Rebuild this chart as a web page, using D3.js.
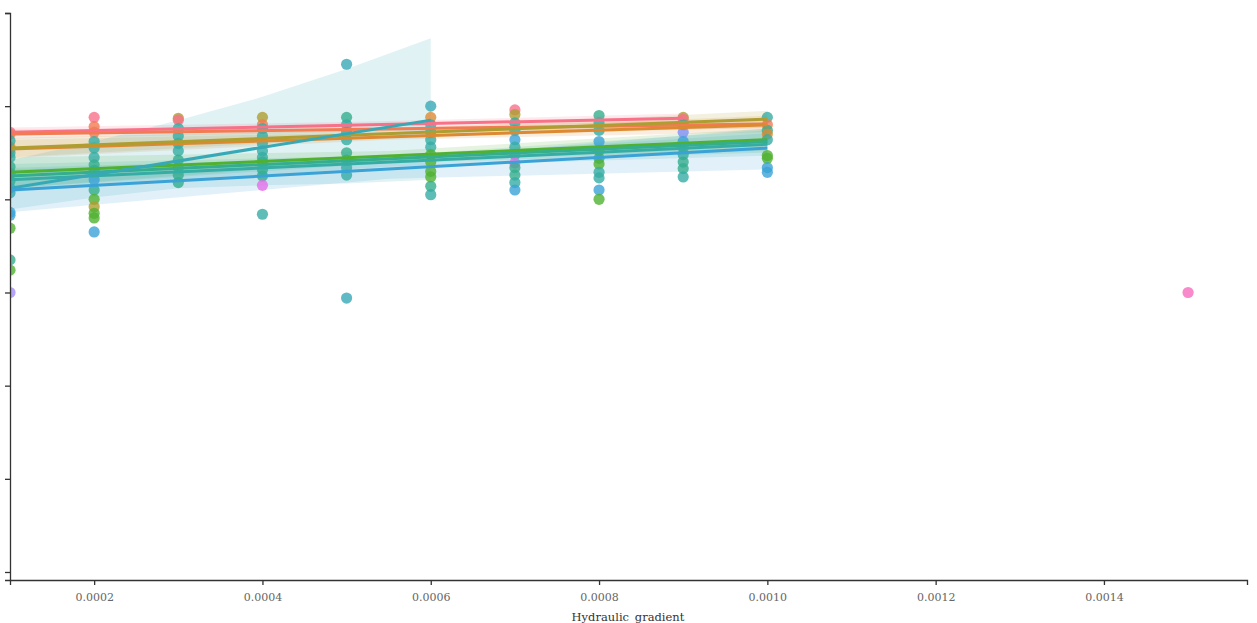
<!DOCTYPE html>
<html>
<head>
<meta charset="utf-8">
<script src="https://cdn.jsdelivr.net/npm/d3@7"></script>
<style>
  body { margin: 0; background: #fff; }
  svg text { font-family: "DejaVu Serif", "Liberation Serif", serif; fill: #444; }
</style>
</head>
<body>
<div id="chart"></div>
<script>
// hue groups and their palette
var seriesNames = ['s1', 's2', 's3', 's4', 's5', 's6', 's7', 's8', 's9', 's10', 's11', 's12', 's13'];
var seriesColors = ['#f77189', '#f27b52', '#dc8932', '#ae9d31', '#50b131', '#34ae8d', '#36ada4',
                    '#37a9b6', '#3aa2d6', '#a48cf4', '#7e8ff4', '#e46ee8', '#f66bbd'];

var xTicks = [0.0002, 0.0004, 0.0006, 0.0008, 0.0010, 0.0012, 0.0014];
var yTicks = [0, 1, 2, 3, 4, 5, 6];

// [series, hydraulic gradient, value]
var observations = [
  ['s1', 0.0001, 4.72], ['s2', 0.0001, 4.70], ['s3', 0.0001, 4.56], ['s4', 0.0001, 4.54],
  ['s7', 0.0001, 4.63], ['s7', 0.0001, 4.50], ['s7', 0.0001, 4.45], ['s6', 0.0001, 4.35],
  ['s6', 0.0001, 4.28], ['s6', 0.0001, 4.20], ['s8', 0.0001, 4.12], ['s8', 0.0001, 4.07],
  ['s9', 0.0001, 3.86], ['s9', 0.0001, 3.83], ['s5', 0.0001, 3.69], ['s6', 0.0001, 3.35],
  ['s5', 0.0001, 3.24], ['s10', 0.0001, 3.0],

  ['s1', 0.0002, 4.88], ['s2', 0.0002, 4.78], ['s2', 0.0002, 4.72], ['s7', 0.0002, 4.62],
  ['s7', 0.0002, 4.55], ['s7', 0.0002, 4.45], ['s6', 0.0002, 4.37], ['s6', 0.0002, 4.31],
  ['s9', 0.0002, 4.21], ['s6', 0.0002, 4.10], ['s5', 0.0002, 4.00], ['s4', 0.0002, 3.92],
  ['s5', 0.0002, 3.85], ['s5', 0.0002, 3.80], ['s9', 0.0002, 3.65],

  ['s4', 0.0003, 4.87], ['s1', 0.0003, 4.85], ['s7', 0.0003, 4.76], ['s7', 0.0003, 4.68],
  ['s7', 0.0003, 4.60], ['s7', 0.0003, 4.52], ['s6', 0.0003, 4.42], ['s6', 0.0003, 4.34],
  ['s6', 0.0003, 4.26], ['s6', 0.0003, 4.18],

  ['s4', 0.0004, 4.88], ['s2', 0.0004, 4.80], ['s7', 0.0004, 4.76], ['s7', 0.0004, 4.68],
  ['s7', 0.0004, 4.60], ['s7', 0.0004, 4.52], ['s7', 0.0004, 4.45], ['s6', 0.0004, 4.40],
  ['s6', 0.0004, 4.32], ['s6', 0.0004, 4.25], ['s12', 0.0004, 4.15], ['s7', 0.0004, 3.84],

  ['s8', 0.0005, 5.45], ['s6', 0.0005, 4.88], ['s7', 0.0005, 4.80], ['s7', 0.0005, 4.72],
  ['s7', 0.0005, 4.64], ['s6', 0.0005, 4.50], ['s6', 0.0005, 4.42], ['s7', 0.0005, 4.34],
  ['s7', 0.0005, 4.26], ['s8', 0.0005, 2.94],

  ['s8', 0.0006, 5.00], ['s3', 0.0006, 4.88], ['s8', 0.0006, 4.80], ['s7', 0.0006, 4.72],
  ['s7', 0.0006, 4.64], ['s7', 0.0006, 4.56], ['s5', 0.0006, 4.48], ['s5', 0.0006, 4.40],
  ['s5', 0.0006, 4.30], ['s5', 0.0006, 4.24], ['s6', 0.0006, 4.14], ['s7', 0.0006, 4.05],

  ['s1', 0.0007, 4.96], ['s4', 0.0007, 4.91], ['s7', 0.0007, 4.82], ['s7', 0.0007, 4.74],
  ['s9', 0.0007, 4.64], ['s7', 0.0007, 4.56], ['s7', 0.0007, 4.48], ['s12', 0.0007, 4.39],
  ['s6', 0.0007, 4.34], ['s6', 0.0007, 4.26], ['s7', 0.0007, 4.18], ['s9', 0.0007, 4.10],

  ['s6', 0.0008, 4.90], ['s7', 0.0008, 4.82], ['s7', 0.0008, 4.74], ['s9', 0.0008, 4.62],
  ['s5', 0.0008, 4.52], ['s6', 0.0008, 4.44], ['s5', 0.0008, 4.38], ['s7', 0.0008, 4.29],
  ['s7', 0.0008, 4.23], ['s9', 0.0008, 4.10], ['s5', 0.0008, 4.00],

  ['s4', 0.0009, 4.88], ['s1', 0.0009, 4.86], ['s7', 0.0009, 4.80], ['s11', 0.0009, 4.72],
  ['s9', 0.0009, 4.62], ['s7', 0.0009, 4.55], ['s7', 0.0009, 4.48], ['s6', 0.0009, 4.40],
  ['s6', 0.0009, 4.33], ['s7', 0.0009, 4.24],

  ['s7', 0.0010, 4.88], ['s2', 0.0010, 4.80], ['s6', 0.0010, 4.74], ['s3', 0.0010, 4.70],
  ['s7', 0.0010, 4.64], ['s5', 0.0010, 4.47], ['s5', 0.0010, 4.44], ['s9', 0.0010, 4.34],
  ['s9', 0.0010, 4.29],

  ['s13', 0.0015, 3.0]
];

// regression fits: line ends and confidence band edges
var fits = [
  {s: 's1', x: [0.0001, 0.0005, 0.0009], y: [4.72, 4.87], lo: [4.68, 4.78, 4.82], hi: [4.77, 4.83, 4.92]},
  {s: 's2', x: [0.0001, 0.00055, 0.0010], y: [4.70, 4.81], lo: [4.65, 4.73, 4.76], hi: [4.75, 4.78, 4.86]},
  {s: 's3', x: [0.0001, 0.00055, 0.0010], y: [4.54, 4.80], lo: [4.44, 4.64, 4.72], hi: [4.64, 4.72, 4.90]},
  {s: 's4', x: [0.0001, 0.00055, 0.0010], y: [4.55, 4.86], lo: [4.45, 4.67, 4.77], hi: [4.66, 4.75, 4.95]},
  {s: 's5', x: [0.0001, 0.00055, 0.0010], y: [4.29, 4.64], lo: [4.12, 4.42, 4.52], hi: [4.45, 4.52, 4.76]},
  {s: 's6', x: [0.0001, 0.00055, 0.0010], y: [4.25, 4.62], lo: [4.12, 4.39, 4.50], hi: [4.38, 4.47, 4.74]},
  {s: 's7', x: [0.0001, 0.00055, 0.0010], y: [4.21, 4.59], lo: [4.08, 4.35, 4.47], hi: [4.34, 4.45, 4.71]},
  {s: 's8', x: [0.0001, 0.0002, 0.0003, 0.0004, 0.0005, 0.0006], y: [4.12, 4.85],
   lo: [3.89, 4.02, 4.12, 4.15, 4.17, 4.21], hi: [4.42, 4.62, 4.85, 5.10, 5.40, 5.73]},
  {s: 's9', x: [0.0001, 0.00055, 0.0010], y: [4.10, 4.55], lo: [3.86, 4.22, 4.32], hi: [4.32, 4.42, 4.76]}
];

var width = 1257, height = 623;

var svg = d3.select('#chart').append('svg')
    .attr('width', width)
    .attr('height', height);

var x = d3.scaleLinear().domain([0.0001, 0.00157]).range([10, 1247]);
var y = d3.scaleLinear().domain([-0.086, 6]).range([580, 13]);
var color = d3.scaleOrdinal().domain(seriesNames).range(seriesColors);

svg.append('clipPath').attr('id', 'plot-clip')
  .append('rect')
    .attr('x', 10).attr('y', 0)
    .attr('width', 1237).attr('height', 580);

var plot = svg.append('g').attr('clip-path', 'url(#plot-clip)');

// confidence bands
var band = d3.area()
    .x(function(d) { return x(d[0]); })
    .y0(function(d) { return y(d[1]); })
    .y1(function(d) { return y(d[2]); })
    .curve(d3.curveLinear);

plot.selectAll('.band')
    .data(fits)
  .enter().append('path')
    .attr('class', 'band')
    .attr('d', function(f) {
        return band(f.x.map(function(v, i) { return [v, f.lo[i], f.hi[i]]; }));
    })
    .style('fill', function(f) { return color(f.s); })
    .style('fill-opacity', 0.15)
    .style('stroke', 'none');

// scatter
plot.selectAll('.dot')
    .data(observations)
  .enter().append('circle')
    .attr('class', 'dot')
    .attr('cx', function(d) { return x(d[1]); })
    .attr('cy', function(d) { return y(d[2]); })
    .attr('r', 5.6)
    .style('fill', function(d) { return color(d[0]); })
    .style('fill-opacity', 0.8);

// regression lines
plot.selectAll('.fit')
    .data(fits)
  .enter().append('line')
    .attr('class', 'fit')
    .attr('x1', function(f) { return x(f.x[0]); })
    .attr('x2', function(f) { return x(f.x[f.x.length - 1]); })
    .attr('y1', function(f) { return y(f.y[0]); })
    .attr('y2', function(f) { return y(f.y[1]); })
    .style('stroke', function(f) { return color(f.s); })
    .style('stroke-width', 3)
    .style('stroke-linecap', 'butt');

// axes
var xAxis = d3.axisBottom(x).tickValues(xTicks).tickFormat(d3.format('.4f')).tickSizeOuter(0).tickSize(5).tickPadding(8);
var yAxis = d3.axisLeft(y).tickValues(yTicks).tickFormat('').tickSizeOuter(0).tickSize(5);

var gx = svg.append('g')
    .attr('class', 'x-Axis')
    .attr('transform', 'translate(0,580)')
    .call(xAxis);

var gy = svg.append('g')
    .attr('class', 'y-Axis')
    .attr('transform', 'translate(10,0)')
    .call(yAxis);

svg.selectAll('.domain, .tick line')
    .style('stroke', '#333')
    .style('stroke-width', 1.3);

gx.selectAll('text')
    .style('font-size', '11px')
    .style('fill', '#666');

svg.append('text')
    .attr('x', 628)
    .attr('y', 621)
    .style('text-anchor', 'middle')
    .style('font-size', '11.5px')
    .style('fill', '#333')
    .text('Hydraulic_gradient');
</script>
</body>
</html>
